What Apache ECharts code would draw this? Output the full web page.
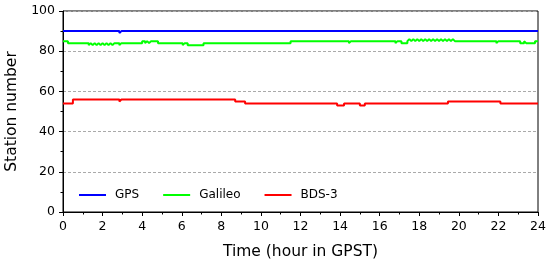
<!DOCTYPE html>
<html><head><meta charset="utf-8">
<script src="https://cdn.jsdelivr.net/npm/echarts@6/dist/echarts.min.js"></script>
<style>html,body{margin:0;padding:0;background:#fff}#c{width:550px;height:260px}</style>
</head><body><div id="c"></div>
<script>
var seriesNames = ['GPS', 'Galileo', 'BDS-3'];
var xTicks = [0,2,4,6,8,10,12,14,16,18,20,22,24];
var yTicks = [0,20,40,60,80,100];
// step breakpoints [hour, station count]: value holds until the next breakpoint
var gpsData = [[0,90],[2.85,89],[2.95,90],[24,90]];
var galileoData = [[0,85],[0.25,84],
  [1.3,83],[1.4,84],[1.5,83],[1.6,84],[1.7,83],[1.8,84],[1.9,83],[2.0,84],[2.1,83],[2.2,84],[2.3,83],[2.4,84],[2.5,83],[2.6,84],[2.85,83],[2.95,84],
  [4.0,85],[4.15,84],[4.25,85],[4.35,84],[4.45,85],[4.8,84],[6.05,83],[6.15,84],[6.3,83],[7.1,84],[11.5,85],
  [14.45,84],[14.55,85],[16.8,84],[16.9,85],[17.1,84],[17.4,85],
  [17.5,86],[17.6,85],[17.7,86],[17.8,85],[17.9,86],[18.0,85],[18.1,86],[18.2,85],[18.3,86],[18.4,85],[18.5,86],[18.6,85],[18.7,86],[18.8,85],[18.9,86],[19.0,85],[19.1,86],[19.2,85],[19.3,86],[19.4,85],[19.5,86],[19.6,85],[19.7,86],[19.8,85],
  [21.9,84],[22.0,85],[23.1,84],[23.3,85],[23.4,84],[23.85,85],[24,85]];
var bdsData = [[0,54],[0.5,56],[2.85,55],[2.95,56],[8.7,55],[9.2,54],[13.85,53],[14.2,54],[15.0,53],[15.25,54],[19.45,55],[22.1,54],[24,54]];
var colors = ['#0000ff','#00ff00','#ff0000'];
var font = 'DejaVu Sans';

function stepify(pts){
  var out = [];
  for (var i = 0; i < pts.length; i++){
    if (i > 0) out.push([pts[i][0], pts[i-1][1]]);
    out.push([pts[i][0], pts[i][1]]);
  }
  return out;
}
var chart = echarts.init(document.getElementById('c'), null, {renderer:'canvas'});
function mk(name, data, color){
  return {name:name, type:'line', data:stepify(data), symbol:'none', showSymbol:false,
    smooth:false, lineStyle:{color:color, width:2}, itemStyle:{color:color}, animation:false, z:3};
}
chart.setOption({
  animation:false,
  textStyle:{fontFamily:font},
  grid:{left:63, right:12, top:11, bottom:48, show:true, borderColor:'#000', borderWidth:1, backgroundColor:'transparent', containLabel:false, outerBoundsMode:'none'},
  legend:{data:seriesNames, left:74, top:184, itemWidth:27, itemHeight:2, itemGap:24,
    icon:'rect', textStyle:{fontFamily:font, fontSize:12, color:'#000', padding:[0,0,0,4]}},
  xAxis:{type:'value', min:xTicks[0], max:xTicks[xTicks.length-1], interval:2,
    name:'Time (hour in GPST)', nameLocation:'middle', nameGap:32,
    nameTextStyle:{fontFamily:font, fontSize:15.5, color:'#000'},
    axisLine:{show:true, lineStyle:{color:'#000', width:1}},
    axisTick:{show:true, inside:false, length:4, lineStyle:{color:'#000'}},
    minorTick:{show:true, splitNumber:2, length:2.5, lineStyle:{color:'#000'}},
    axisLabel:{fontFamily:font, fontSize:12.5, color:'#000', margin:8},
    splitLine:{show:false}},
  yAxis:{type:'value', min:yTicks[0], max:yTicks[yTicks.length-1], interval:20,
    name:'Station number', nameLocation:'middle', nameGap:38,
    nameTextStyle:{fontFamily:font, fontSize:15.5, color:'#000'},
    axisLine:{show:true, lineStyle:{color:'#000', width:1}},
    axisTick:{show:true, inside:false, length:4, lineStyle:{color:'#000'}},
    minorTick:{show:true, splitNumber:2, length:2.5, lineStyle:{color:'#000'}},
    axisLabel:{fontFamily:font, fontSize:12.5, color:'#000', margin:8},
    splitLine:{show:true, lineStyle:{color:'#aaaaaa', type:[3,2], width:1}}},
  series:[mk(seriesNames[0], gpsData, colors[0]), mk(seriesNames[1], galileoData, colors[1]), mk(seriesNames[2], bdsData, colors[2])]
});
</script></body></html>
